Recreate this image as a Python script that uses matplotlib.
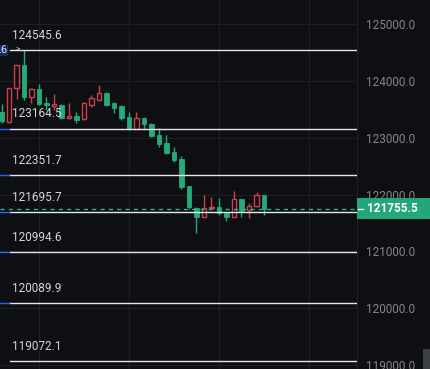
import matplotlib
matplotlib.use("Agg")
import matplotlib.pyplot as plt
import matplotlib.transforms as mtransforms
from matplotlib.patches import Rectangle
import numpy as np

# ── data ─────────────────────────────────────────────────────────────────────
opens  = [123456, 123280, 123879, 124283, 123720, 123861, 123614, 123570, 123579, 123350,
          123386, 123333, 123579, 123667, 123790, 123614, 123561, 123368, 123157, 123350,
          123245, 123051, 122910, 122752, 122628, 122153, 121765, 121607, 121765, 121783,
          121677, 121607, 121924, 121730, 121801, 121995]
closes = [123297, 123879, 124283, 123720, 123861, 123597, 123579, 123597, 123350, 123386,
          123315, 123614, 123702, 123790, 123579, 123526, 123350, 123157, 123350, 123245,
          123033, 122892, 122734, 122611, 122136, 121783, 121607, 121765, 121783, 121677,
          121607, 121924, 121713, 121801, 121995, 121755.5]
highs  = [123597, 123879, 124283, 124545.6, 123870, 123949, 123720, 123772, 123600, 123614,
          123456, 123640, 123755, 123931, 123800, 123632, 123580, 123456, 123456, 123368,
          123260, 123174, 123051, 122840, 122681, 122160, 121780, 121995, 121959, 121942,
          121690, 122065, 121930, 121854, 122048, 122000]
lows   = [123262, 123262, 123685, 123667, 123614, 123579, 123491, 123491, 123340, 123340,
          123262, 123320, 123544, 123660, 123570, 123438, 123315, 123140, 123150, 123157,
          123010, 122840, 122720, 122576, 122100, 121750, 121325, 121600, 121760, 121642,
          121537, 121600, 121607, 121589, 121790, 121642]
levels = [124545.6, 123164.5, 122351.7, 121695.7, 120994.6, 120089.9, 119072.1]
level_marked = [False, True, True, True, True, True, False]   # little blue stub on the left
yticks = [119000, 120000, 121000, 122000, 123000, 124000, 125000]
last_price = 121755.5

BG = "#0e0f12"; UP = "#cc3f4d"; DOWN = "#26a97b"; GRID = "#1c1e23"; TICK = "#83868d"; BLUE = "#2962ff"
plt.rcParams.update({"font.family": ["Roboto", "DejaVu Sans"], "font.size": 8.5})

fig = plt.figure(figsize=(4.3, 3.69), dpi=100, facecolor=BG)
ax = fig.add_axes([0, 0, 357 / 430, 1], facecolor=BG)
ax.set_xlim(-0.2, 47.4); ax.set_ylim(118931, 125428)

# ── grid ────────────────────────────────────────────────────────────────────
for gx in (5, 17, 29, 41):
    ax.axvline(gx, color=GRID, lw=0.9, zorder=0)
for gy in yticks:
    ax.axhline(gy, color=GRID, lw=0.9, zorder=0)

# ── candles: red = up (hollow), green = down (filled) ─────────────────────────
x = np.arange(len(opens))
o = np.array(opens); c = np.array(closes)
up = c >= o
ax.vlines(x, lows, highs, color=np.where(up, UP, DOWN), lw=1.0, zorder=2)
bottom = np.minimum(o, c); height = np.maximum(np.abs(c - o), 18)
ax.bar(x[up], height[up], bottom=bottom[up], width=0.6, facecolor=BG, edgecolor=UP, lw=1.0, zorder=3)
ax.bar(x[~up], height[~up], bottom=bottom[~up], width=0.6, facecolor=DOWN, edgecolor=DOWN, lw=0.6, zorder=3)

# ── horizontal levels ────────────────────────────────────────────────────────
for lv, mk in zip(levels, level_marked):
    ax.axhline(lv, xmin=0.028, xmax=0.997, color="#e6e6e6", lw=1.0, zorder=4)
    ax.annotate(f"{lv:.1f}", (0.034, lv), xycoords=("axes fraction", "data"), xytext=(0, 8),
                textcoords="offset points", va="baseline", ha="left", color="#d6d6d6", fontsize=8.5, zorder=5)
    if mk:
        ax.plot([0, 0.026], [lv, lv], color=BLUE, lw=1.0, transform=ax.get_yaxis_transform(), zorder=4)
ax.text(-0.004, levels[0], ".6", transform=ax.get_yaxis_transform(), color="#e6e6e6", fontsize=8,
        va="center", ha="left", zorder=6, bbox=dict(boxstyle="square,pad=0.05", fc=BLUE, ec="none", alpha=0.35))
ax.text(0.05, levels[0], ">", transform=ax.get_yaxis_transform(), color="#e6e6e6", fontsize=6,
        va="center", ha="center", zorder=6)

# ── last price dashed line ───────────────────────────────────────────────────
ax.axhline(last_price, color="#2bb38a", lw=1.0, ls=(0, (3, 3)), zorder=4)

# ── right price axis ─────────────────────────────────────────────────────────
ax.yaxis.tick_right(); ax.set_yticks(yticks)
ax.set_yticklabels([f"{t:.1f}" for t in yticks])
ax.tick_params(axis="y", length=0, pad=6.5, colors=TICK, labelsize=8.5)
ax.set_xticks([])
for s in ("top", "left", "bottom"):
    ax.spines[s].set_visible(False)
ax.spines["right"].set_color("#1e2126"); ax.spines["right"].set_linewidth(0.8)

tr = mtransforms.blended_transform_factory(fig.transFigure, ax.transData)
ax.add_patch(Rectangle((357 / 430, last_price - 185), 73 / 430, 370, transform=tr, facecolor="#23a77a",
                       edgecolor="none", clip_on=False, zorder=8))
ax.plot([358 / 430, 363 / 430], [last_price, last_price], color="white", lw=0.9, transform=tr, clip_on=False, zorder=9)
ax.text(367 / 430, last_price, f"{last_price:.1f}", transform=tr, color="white", fontsize=8.5, fontweight="bold",
        va="center", ha="left", zorder=9)
fig.patches.append(Rectangle((423 / 430, 0), 7 / 430, 20 / 369, transform=fig.transFigure,
                             facecolor="#3b3e45", edgecolor="none", zorder=5))

fig.savefig("out.png", dpi=100, facecolor=BG)
